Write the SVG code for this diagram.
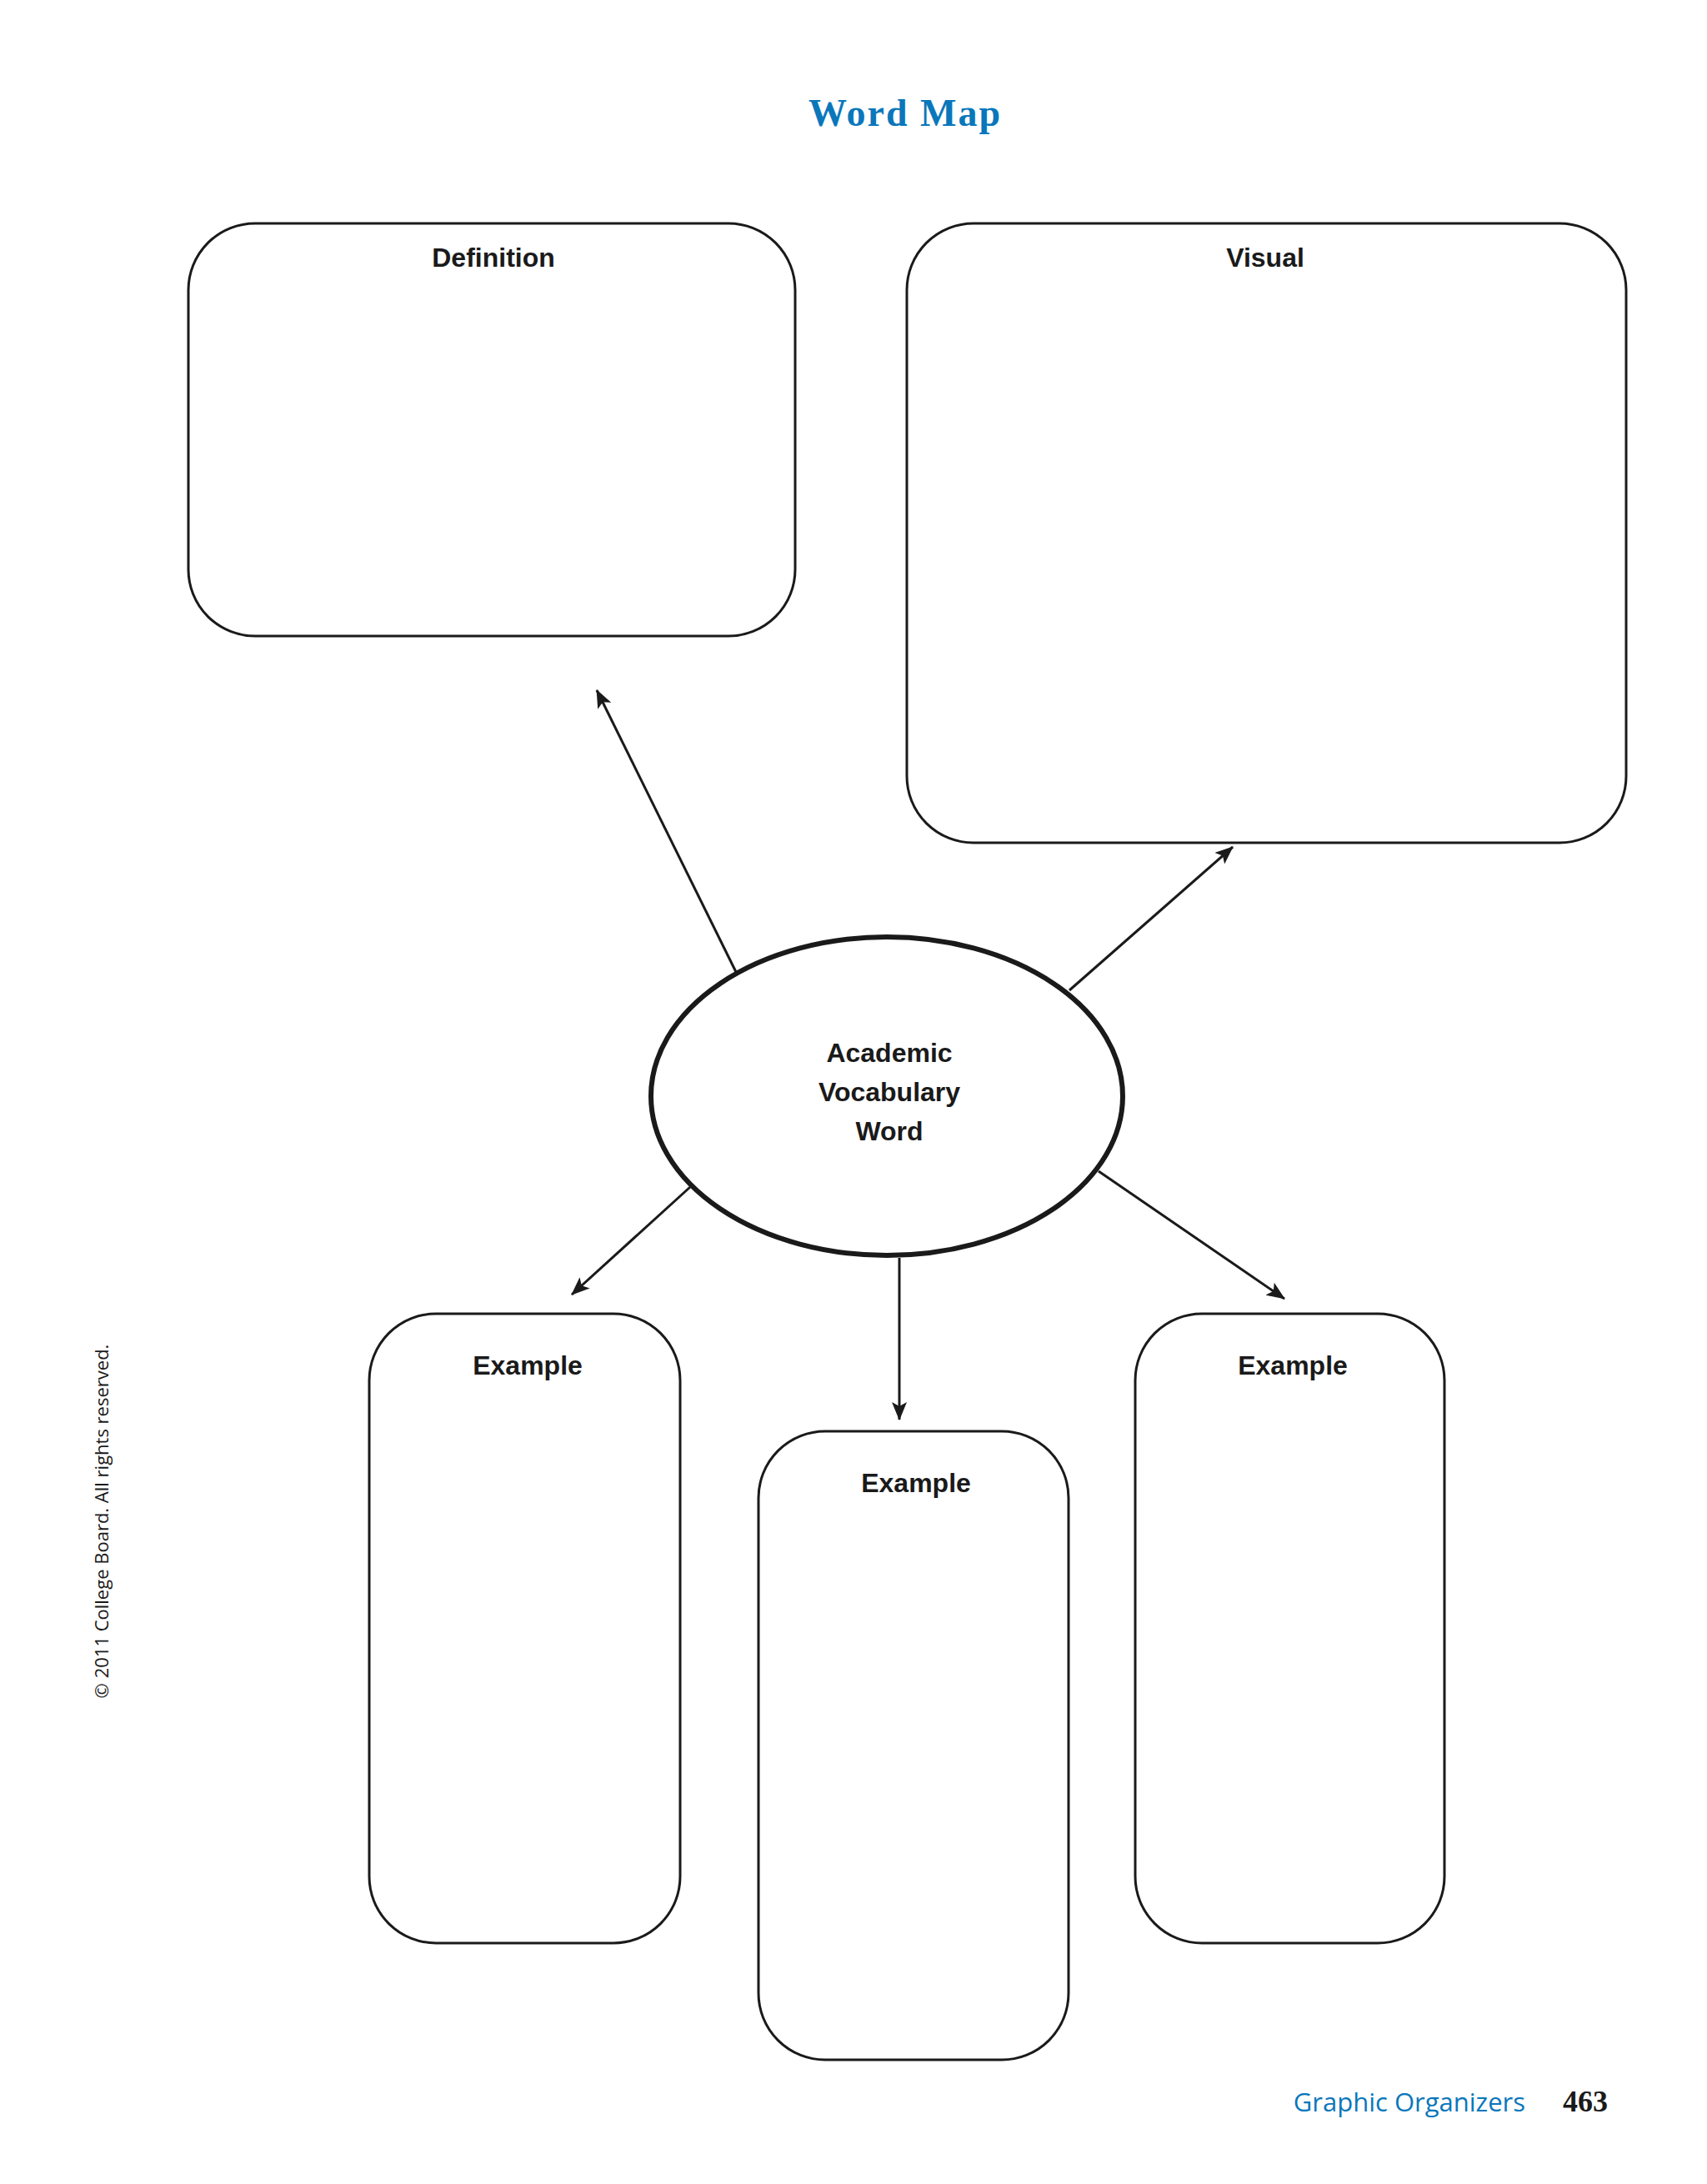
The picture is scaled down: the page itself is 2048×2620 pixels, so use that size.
<svg xmlns="http://www.w3.org/2000/svg" width="2048" height="2620" viewBox="0 0 2048 2620">
<defs>
<style>
.box{fill:none;stroke:#1a1a1a;stroke-width:3}
.lbl{font-family:"Liberation Sans",Arial,sans-serif;font-weight:bold;font-size:32px;fill:#1a1a1a;text-anchor:middle}
.con{stroke:#1a1a1a;stroke-width:3;fill:none;marker-end:url(#ah)}
</style>
<marker id="ah" viewBox="0 0 22 18" refX="21" refY="9" markerWidth="22" markerHeight="18" orient="auto" markerUnits="userSpaceOnUse">
<path d="M0,0 L22,9 L0,18 L5,9 Z" fill="#1a1a1a"/>
</marker>
</defs>
<rect width="2048" height="2620" fill="#fff"/>
<text x="1086" y="151" font-family="'Liberation Serif',serif" font-weight="bold" font-size="46" fill="#0a77bb" text-anchor="middle" letter-spacing="2">Word Map</text>
<g id="definition"><rect class="box" x="226" y="268" width="728" height="495" rx="80"/><text class="lbl" x="592" y="320">Definition</text></g>
<g id="visual"><rect class="box" x="1088" y="268" width="863" height="743" rx="80"/><text class="lbl" x="1518" y="320">Visual</text></g>
<g id="center"><ellipse cx="1064" cy="1315" rx="283" ry="191" fill="none" stroke="#1a1a1a" stroke-width="6"/>
<text class="lbl" x="1067" y="1274">Academic</text><text class="lbl" x="1067" y="1321">Vocabulary</text><text class="lbl" x="1067" y="1368">Word</text></g>
<g id="example1"><rect class="box" x="443" y="1576" width="373" height="755" rx="80"/><text class="lbl" x="633" y="1649">Example</text></g>
<g id="example2"><rect class="box" x="910" y="1717" width="372" height="754" rx="80"/><text class="lbl" x="1099" y="1790">Example</text></g>
<g id="example3"><rect class="box" x="1362" y="1576" width="371" height="755" rx="80"/><text class="lbl" x="1551" y="1649">Example</text></g>
<g id="connectors">
<line class="con" x1="883" y1="1166" x2="716" y2="828"/>
<line class="con" x1="1283" y1="1188" x2="1479" y2="1016"/>
<line class="con" x1="828" y1="1424" x2="686" y2="1553"/>
<line class="con" x1="1079" y1="1509" x2="1079" y2="1703"/>
<line class="con" x1="1318" y1="1405" x2="1541" y2="1558"/>
</g>
<text transform="translate(130,1825) rotate(-90)" font-family="'Open Sans',sans-serif" font-size="22" fill="#1a1a1a" text-anchor="middle">© 2011 College Board. All rights reserved.</text>
<text x="1830" y="2533" font-family="'Open Sans',sans-serif" font-size="31" fill="#0a77bb" text-anchor="end">Graphic Organizers</text>
<text x="1929" y="2533" font-family="'Liberation Serif',serif" font-weight="bold" font-size="36" fill="#1a1a1a" text-anchor="end">463</text>
</svg>
